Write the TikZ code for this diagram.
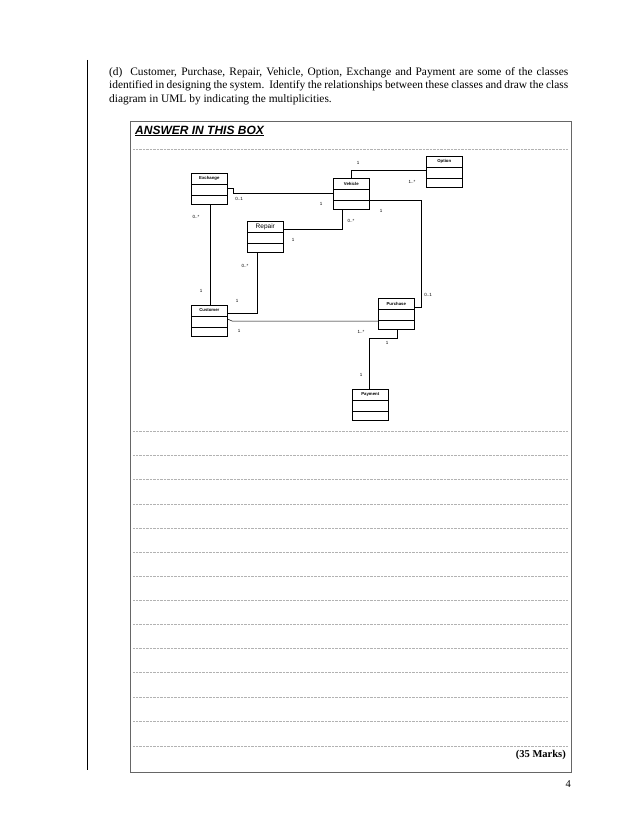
\documentclass[tikz,border=0pt]{standalone}
\usepackage{fontspec}
\setmainfont{Liberation Serif}
\setsansfont{Liberation Sans}
\begin{document}
\begin{tikzpicture}[x=1pt,y=-1pt,
  cbox/.style={draw,line width=0.6pt,anchor=north west,minimum width=36pt,minimum height=31pt,inner sep=0pt},
  ctext/.style={font=\sffamily\bfseries\fontsize{4.3}{5}\selectfont},
  mult/.style={font=\sffamily\fontsize{4.5}{5}\selectfont,inner sep=0pt},
  conn/.style={line width=0.5pt},
  dline/.style={densely dotted,gray!60,line width=0.4pt}]
\useasboundingbox (0,0) rectangle (638,826);
\newcommand\cls[4]{%
  \node[cbox] (#1) at (#2,#3) {};
  \draw[line width=0.6pt] ([yshift=-11pt]#1.north west) -- ([yshift=-11pt]#1.north east);
  \draw[line width=0.6pt] ([yshift=-22pt]#1.north west) -- ([yshift=-22pt]#1.north east);
  \node[ctext] (#1t) at ([yshift=-5.5pt]#1.north) {#4};}
% margin bar
\draw[line width=0.6pt] (87,60) -- (87,770);
% question
\node[anchor=north west,inner sep=0pt,text width=459pt,align=justify,font=\fontsize{11.4}{13.6}\selectfont] (q) at (109,67)
 {\hangindent=17pt\hangafter=1 (d)\ \ Customer, Purchase, Repair, Vehicle, Option, Exchange and Payment are some of the classes identified in designing the system.\ \ Identify the relationships between these classes and draw the class diagram in UML by indicating the multiplicities.};
% answer box
\draw[gray!80!black,line width=1pt] (130,122) rectangle (571,772);
\node[anchor=west,inner sep=0pt,font=\sffamily\bfseries\itshape\fontsize{12}{13}\selectfont] (hd) at (135,131) {\underline{ANSWER IN THIS BOX}};
\foreach \yy in {149,431,455,479,504,528,552,576,600,624,648,672,697,721,746}
  \draw[dline] (133,\yy) -- (568,\yy);
\node[anchor=east,inner sep=0pt,font=\bfseries\fontsize{10.5}{12}\selectfont] (mk) at (566,755) {(35 Marks)};
\node[anchor=east,inner sep=0pt,font=\fontsize{10.5}{12}\selectfont] (pg) at (571,784) {4};
% classes
\cls{ex}{191}{173}{Exchange}
\cls{ve}{333}{178}{Vehicle}
\cls{op}{426}{156}{Option}
\node[cbox] (re) at (247,221) {};
\draw[line width=0.6pt] ([yshift=-11pt]re.north west) -- ([yshift=-11pt]re.north east);
\draw[line width=0.6pt] ([yshift=-22pt]re.north west) -- ([yshift=-22pt]re.north east);
\node[font=\sffamily\fontsize{6.5}{7}\selectfont] (ret) at ([yshift=-5.5pt]re.north) {Repair};
\cls{cu}{191}{305}{Customer}
\cls{pu}{378}{298}{Purchase}
\cls{pa}{352}{389}{Payment}
% connectors
\coordinate (c1) at (233,188);
\coordinate (c2) at (233,193);
\draw[conn] (ex.east |- c1) -- (c1) -- (c2) -- (ve.west |- c2);
\coordinate (c3) at (351,170);
\draw[conn] (ve.north -| c3) -- (c3) -- (op.west |- c3);
\coordinate (c4) at (342,229);
\draw[conn] (ve.south -| c4) -- (c4) -- (re.east |- c4);
\coordinate (c5) at (421,200);
\coordinate (c6) at (421,307);
\draw[conn] (ve.east |- c5) -- (c5) -- (c6) -- (pu.east |- c6);
\draw[conn] (ex.south -| 210,0) -- (cu.north -| 210,0);
\coordinate (c7) at (257,313);
\draw[conn] (re.south -| c7) -- (c7) -- (cu.east |- c7);
\coordinate (c8) at (232,321);
\draw[conn] (cu.east |- 0,319) -- (c8) -- (pu.west |- c8);
\coordinate (c9) at (397,338);
\coordinate (c10) at (369,338);
\draw[conn] (pu.south -| c9) -- (c9) -- (c10) -- (pa.north -| c10);
% multiplicities
\node[mult] (m1) at (358,163) {1};
\node[mult] (m2) at (412,182) {1..*};
\node[mult] (m3) at (239,199) {0..1};
\node[mult] (m4) at (321,204) {1};
\node[mult] (m5) at (381,211) {1};
\node[mult] (m6) at (351,221) {0..*};
\node[mult] (m7) at (196,217) {0..*};
\node[mult] (m8) at (293,240) {1};
\node[mult] (m9) at (245,266) {0..*};
\node[mult] (m10) at (201,291) {1};
\node[mult] (m11) at (237,301) {1};
\node[mult] (m12) at (428,295) {0..1};
\node[mult] (m13) at (239,331) {1};
\node[mult] (m14) at (361,332) {1..*};
\node[mult] (m15) at (387,343) {1};
\node[mult] (m16) at (361,375) {1};
\end{tikzpicture}
\end{document}
